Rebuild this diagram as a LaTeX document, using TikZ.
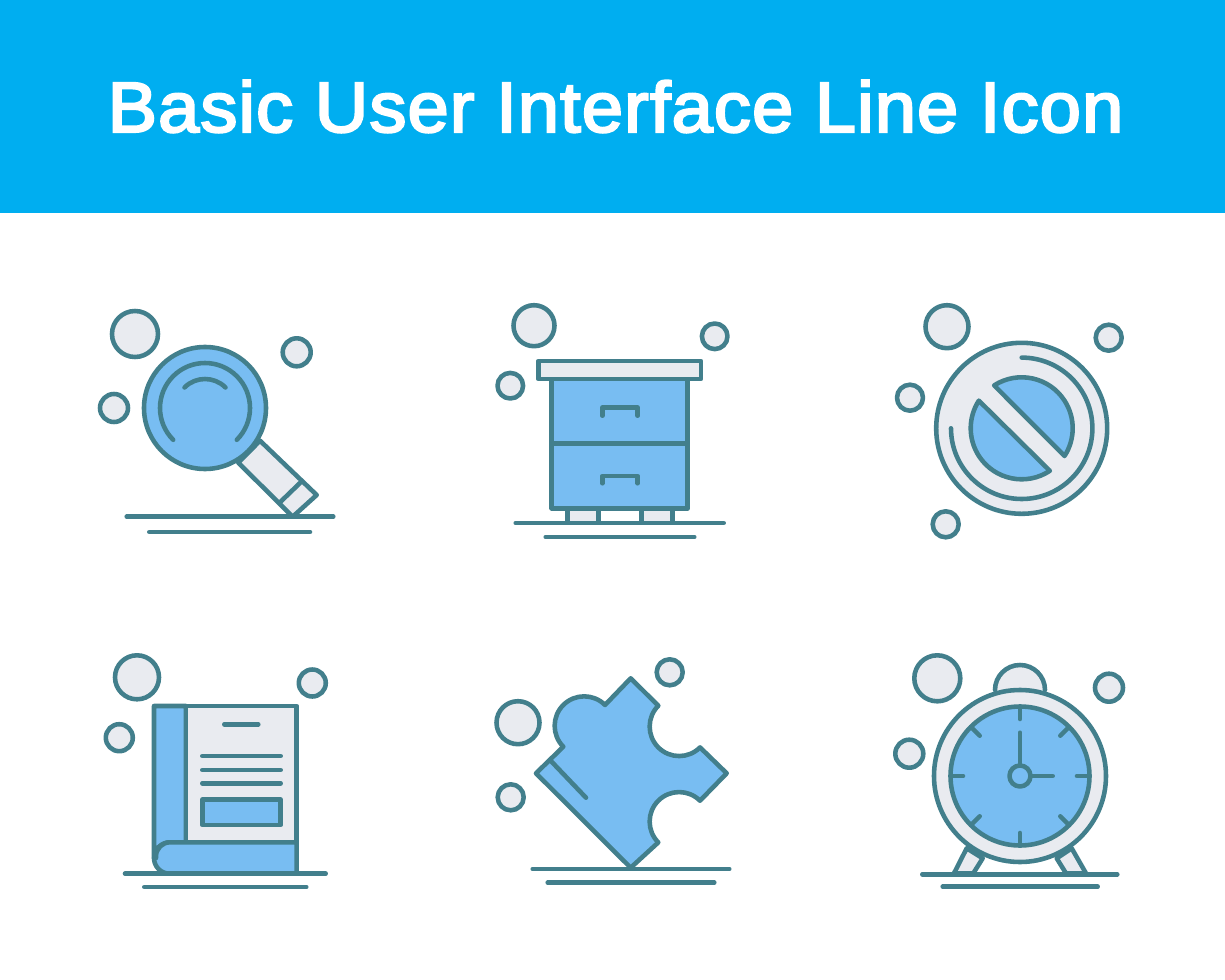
\documentclass[tikz,border=0pt]{standalone}
\usepackage{fontspec}
\setmainfont{Liberation Sans}
\newfontfamily\titlefont[FakeBold=3.2,FakeStretch=1.04,LetterSpace=1.6]{Liberation Sans}
\definecolor{bannerblue}{RGB}{0,174,240}
\definecolor{tealline}{RGB}{66,127,140}
\definecolor{palegray}{RGB}{233,235,240}
\definecolor{skyblue}{RGB}{120,189,242}
\tikzset{
	iconline/.style={draw=tealline,line width=2.6pt,line cap=round,line join=round},
	graypart/.style={iconline,fill=palegray},
	bluepart/.style={iconline,fill=skyblue},
}
\begin{document}
\begin{tikzpicture}[x=0.02cm,y=-0.02cm]
	\useasboundingbox (0,0) rectangle (1225,980);
	% title banner
	\fill [bannerblue] (0,0) rectangle (1225,213);
	\node (title) at (615.5,106.5) [text=white,font=\titlefont\fontsize{40.5}{48}\selectfont] {Basic User Interface Line Icon};
	
	% bubbles around the icons
	\foreach \cx/\cy/\rad in {135/334/23,296.7/352.3/14,114/408/14,
		534/325.7/20.5,714.7/336.3/12.8,510.3/385.7/12.8,
		947/326.7/21.5,1108.7/337.7/13,910/397.7/13,945.7/524.3/13,
		137/677.3/22,312.3/683/13.5,119.3/737.7/13.5,
		518/722.7/21.5,669.7/672.3/13,510.7/797.3/13,
		937.3/678.3/23,1109/687.7/14,909.3/753.7/14}
		\draw [graypart] (\cx,\cy) circle [radius=\rad];
	
	% magnifier
	\draw [graypart] (260,440.7) -- (316.7,495) -- (292.7,516.7) -- (238.3,462.7) -- cycle;
	\draw [iconline] (300.7,482.3) -- (280,502.3);
	\draw [bluepart] (205,408) circle [radius=61];
	\draw [iconline] (205,408) ++(135:45) arc [start angle=135,end angle=405,radius=45];
	\draw [iconline] (205,408) ++(225:29) arc [start angle=225,end angle=315,radius=29];
	\draw [iconline] (126.7,516.7) -- (333.3,516.7);
	\draw [iconline] (149.3,532) -- (310,532);
	
	% cabinet
	\draw [graypart] (567.7,508) rectangle (598.3,523);
	\draw [graypart] (641.7,508) rectangle (672.3,523);
	\draw [bluepart] (551.7,379) rectangle (687.7,508.3);
	\draw [graypart] (538.3,361) rectangle (701,379);
	\draw [iconline] (551.7,443.7) -- (687.7,443.7);
	\draw [iconline] (602.3,415.7) -- (602.3,407.7) -- (637.7,407.7) -- (637.7,415.7);
	\draw [iconline] (602.3,483.3) -- (602.3,476) -- (637.7,476) -- (637.7,483.3);
	\draw [iconline] (515.7,523) -- (723.7,523);
	\draw [iconline] (545.7,537) -- (694.3,537);
	
	% no entry sign
	\draw [graypart] (1021.7,428.3) circle [radius=85.5];
	\draw [iconline] (1021.7,428.3) ++(270:70.7) arc [start angle=270,end angle=540,radius=70.7];
	\draw [bluepart] (1021.7,428.3) ++(237.3:51) arc [start angle=237.3,end angle=392.9,radius=51] -- cycle;
	\draw [bluepart] (1021.7,428.3) ++(56.5:51) arc [start angle=56.5,end angle=212.8,radius=51] -- cycle;
	
	% book
	\draw [bluepart] (154,858) -- (154,706) -- (186,706) -- (186,842.3) -- (170,842.3) arc [start angle=270,end angle=180,radius=16];
	\draw [graypart] (186,842.3) -- (186,706) -- (296.7,706) -- (296.7,842.3) -- cycle;
	\draw [bluepart] (296.7,842.3) -- (170,842.3) arc [start angle=270,end angle=180,radius=14] -- (156,858) -- (154,858) arc [start angle=180,end angle=90,radius=15.7] -- (296.7,873.7) -- cycle;
	\draw [iconline] (224.3,724.3) -- (258.3,724.3);
	\foreach \ly in {756,770,783.3}
		\draw [iconline] (202.3,\ly) -- (280.7,\ly);
	\draw [bluepart] (202.3,799.7) rectangle (280.7,825);
	\draw [iconline] (125,873.7) -- (325.7,873.7);
	\draw [iconline] (144.3,887) -- (306.3,887);
	
	% puzzle piece
	\draw [bluepart] (630.7,678.3) -- (658.3,705.7)
		arc [start angle=225,end angle=45,radius=29.5] -- (726.7,773.3) -- (700,800.7)
		arc [start angle=315,end angle=135,radius=29.5] -- (630.7,867.7) -- (536,773.3) -- (563.3,746.7)
		arc [start angle=135,end angle=315,radius=29.5] -- cycle;
	\draw [iconline] (550,760) -- (586,797.7);
	\draw [iconline] (532.7,869) -- (729.3,869);
	\draw [iconline] (547.7,882.7) -- (714.3,882.7);
	
	% alarm clock
	\draw [graypart] (995,690) arc [start angle=180,end angle=360,radius=25];
	\draw [graypart] (966.7,848.3) -- (954,873.3) -- (973.3,873.3) -- (982.7,858.3) -- cycle;
	\draw [graypart] (1071.7,848.3) -- (1086,873.3) -- (1066,873.3) -- (1056.7,858.3) -- cycle;
	\draw [graypart] (1020,776) circle [radius=86];
	\draw [bluepart] (1020,776) circle [radius=69.5];
	\foreach \ang in {0,45,...,315}
		\draw [iconline] (1020,776) ++(\ang:57) -- ++(\ang:12);
	\draw [iconline] (1020,732.7) -- (1020,776) -- (1052.7,776);
	\draw [bluepart] (1020,776) circle [radius=10.5];
	\draw [iconline] (922.3,874.3) -- (1117.3,874.3);
	\draw [iconline] (942.7,886.7) -- (1097.7,886.7);
\end{tikzpicture}
\end{document}
